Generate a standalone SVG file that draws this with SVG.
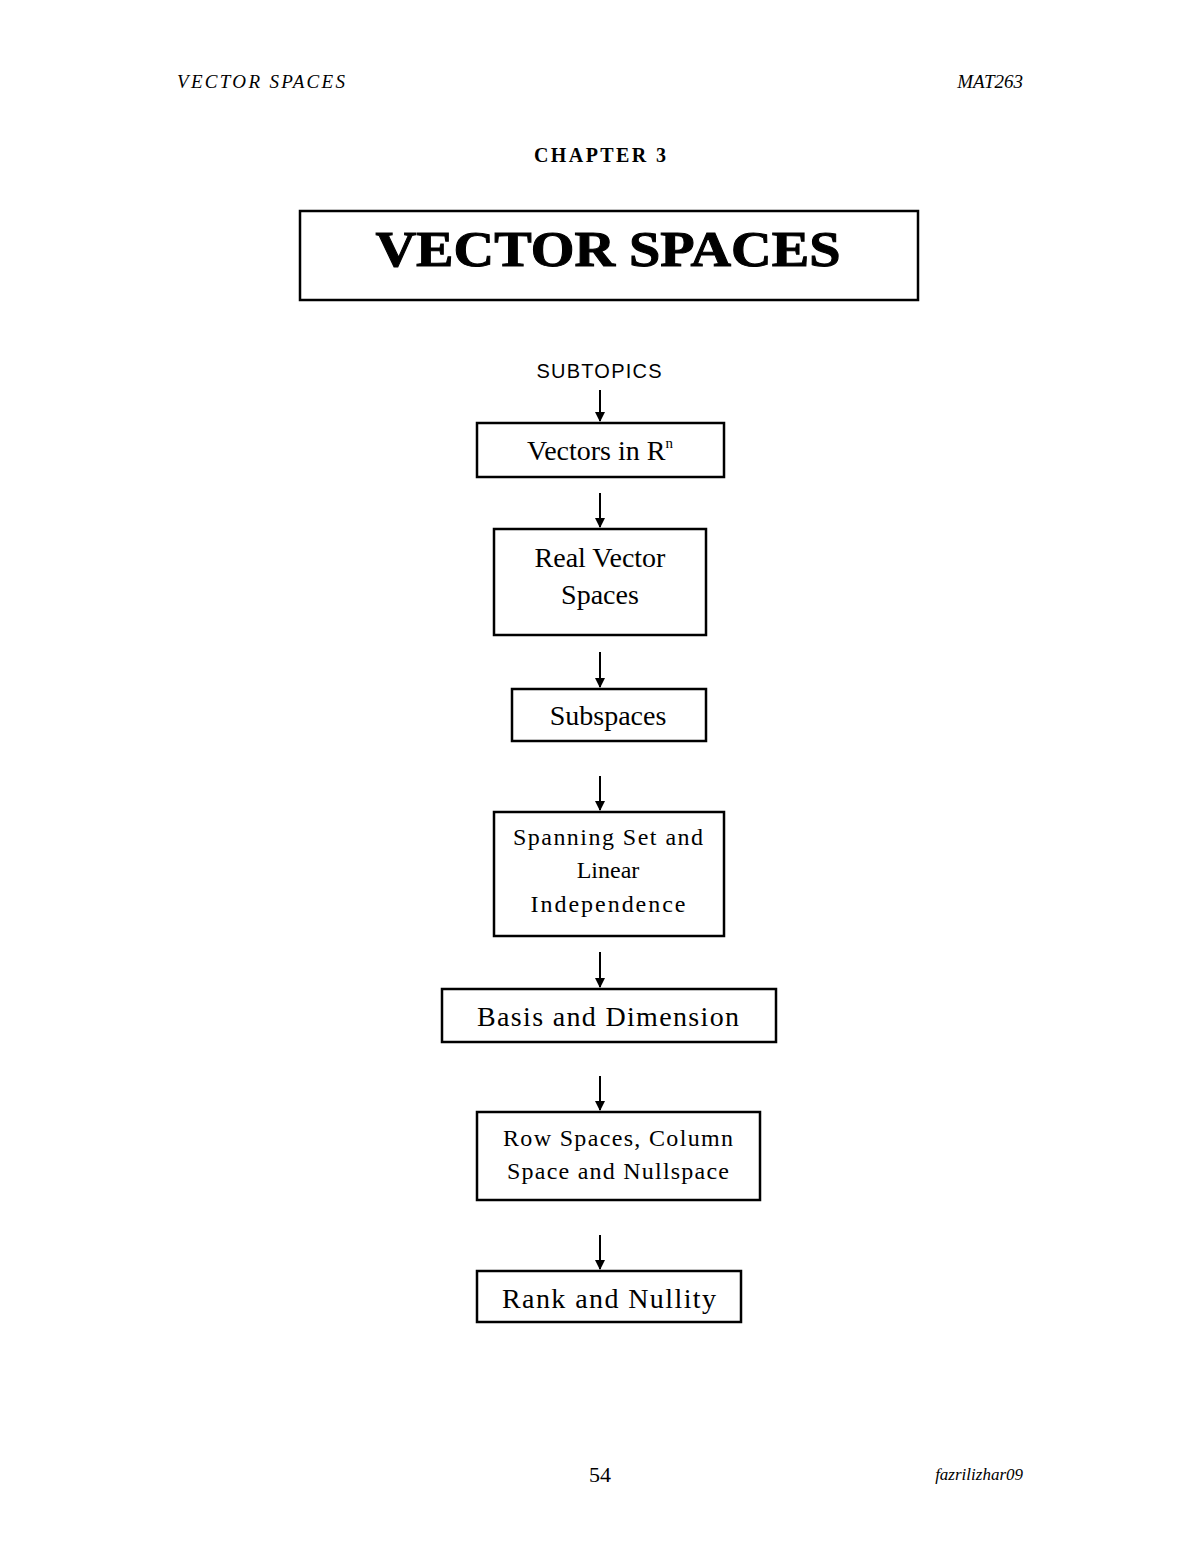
<svg xmlns="http://www.w3.org/2000/svg" width="1200" height="1553" viewBox="0 0 1200 1553">
<style>
.b{fill:#fff;stroke:#000;stroke-width:2.5}
.t{font-family:"Liberation Serif",serif;fill:#000;text-anchor:middle}
.c{stroke:#000;stroke-width:2;fill:none}
</style>
<defs><marker id="a" viewBox="0 0 10 10" refX="9" refY="5" markerWidth="12" markerHeight="10" markerUnits="userSpaceOnUse" orient="auto"><path d="M0,0L10,5L0,10z" fill="#000"/></marker></defs>
<rect width="1200" height="1553" fill="#fff"/>
<text x="177" y="88" font-family="Liberation Serif,serif" font-style="italic" font-size="19" textLength="168">VECTOR SPACES</text>
<text x="1023" y="88" font-family="Liberation Serif,serif" font-style="italic" font-size="19" text-anchor="end">MAT263</text>
<text class="t" x="600" y="162" font-weight="bold" font-size="20" textLength="132">CHAPTER 3</text>
<g id="title"><rect class="b" x="300" y="211" width="618" height="89"/><text class="t" x="608" y="266" font-weight="bold" font-size="50" stroke="#000" stroke-width="1" textLength="465" lengthAdjust="spacingAndGlyphs">VECTOR SPACES</text></g>
<text x="599" y="378" font-family="Liberation Sans,sans-serif" font-size="20" text-anchor="middle" textLength="125">SUBTOPICS</text>
<g id="connectors">
<line class="c" x1="600" y1="390" x2="600" y2="421" marker-end="url(#a)"/>
<line class="c" x1="600" y1="493" x2="600" y2="527" marker-end="url(#a)"/>
<line class="c" x1="600" y1="652" x2="600" y2="687" marker-end="url(#a)"/>
<line class="c" x1="600" y1="776" x2="600" y2="810" marker-end="url(#a)"/>
<line class="c" x1="600" y1="952" x2="600" y2="987" marker-end="url(#a)"/>
<line class="c" x1="600" y1="1076" x2="600" y2="1110" marker-end="url(#a)"/>
<line class="c" x1="600" y1="1235" x2="600" y2="1269" marker-end="url(#a)"/>
</g>
<g id="n1"><rect class="b" x="477" y="423" width="247" height="54"/><text class="t" x="600" y="460" font-size="28">Vectors in R<tspan font-size="15" dy="-12">n</tspan></text></g>
<g id="n2"><rect class="b" x="494" y="529" width="212" height="106"/><text class="t" x="600" y="567" font-size="28">Real Vector</text><text class="t" x="600" y="604" font-size="28">Spaces</text></g>
<g id="n3"><rect class="b" x="512" y="689" width="194" height="52"/><text class="t" x="608" y="725" font-size="28">Subspaces</text></g>
<g id="n4"><rect class="b" x="494" y="812" width="230" height="124"/><text class="t" x="608" y="845" font-size="24" textLength="190">Spanning Set and</text><text class="t" x="608" y="878" font-size="24">Linear</text><text class="t" x="608" y="912" font-size="24" textLength="155">Independence</text></g>
<g id="n5"><rect class="b" x="442" y="989" width="334" height="53"/><text class="t" x="608" y="1026" font-size="28" textLength="262">Basis and Dimension</text></g>
<g id="n6"><rect class="b" x="477" y="1112" width="283" height="88"/><text class="t" x="618" y="1146" font-size="24" textLength="230">Row Spaces, Column</text><text class="t" x="618" y="1179" font-size="24" textLength="222">Space and Nullspace</text></g>
<g id="n7"><rect class="b" x="477" y="1271" width="264" height="51"/><text class="t" x="609" y="1308" font-size="28" textLength="214">Rank and Nullity</text></g>
<text class="t" x="600" y="1482" font-size="22">54</text>
<text x="1023" y="1480" font-family="Liberation Serif,serif" font-style="italic" font-size="17" text-anchor="end">fazrilizhar09</text>
</svg>
